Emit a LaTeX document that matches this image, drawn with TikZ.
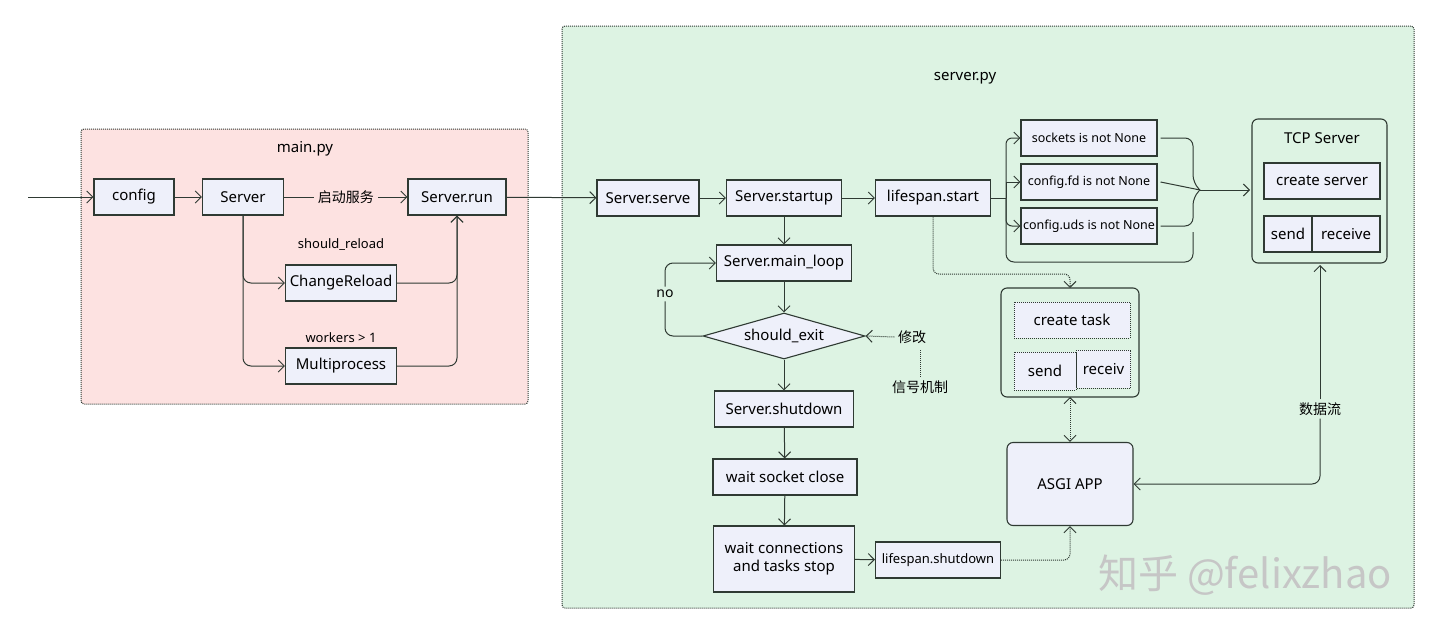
\documentclass[tikz,border=0pt]{standalone}
\usepackage{fontspec}
\setmainfont{Noto Sans}
\newfontfamily\cjk{Noto Sans CJK SC}
\usetikzlibrary{arrows.meta,shapes.geometric}
\definecolor{boxfill}{HTML}{EEF0FA}
\definecolor{ln}{HTML}{2F3A33}
\definecolor{pinkbg}{HTML}{FDE2E1}
\definecolor{greenbg}{HTML}{DDF3E3}
\begin{document}
\begin{tikzpicture}[x=1pt,y=-1pt,
  font=\fontsize{15}{18}\selectfont,
  >={Straight Barb[length=6pt,width=12pt,line width=1pt]},
  box/.style={draw=ln,line width=1.1pt,fill=boxfill,minimum height=36pt,inner sep=2pt},
  rbox/.style={draw=ln,line width=1.1pt,rounded corners=6pt},
  dbox/.style={draw=ln,densely dotted,line width=1pt,fill=boxfill,minimum height=37pt,inner sep=1pt},
  arr/.style={->,draw=ln,line width=1pt},
  dots/.style={draw=ln,densely dotted,line width=1pt},
  lbl/.style={font=\fontsize{13}{15}\selectfont},
  cn/.style={font=\cjk\fontsize{14}{17}\selectfont}]
\useasboundingbox (0,0) rectangle (1440,635);
\fill[white] (0,0) rectangle (1440,635);
% regions
\draw[dots,fill=pinkbg,rounded corners=3pt] (81,129) rectangle (528,404);
\draw[dots,fill=greenbg,rounded corners=3pt] (562,26) rectangle (1414,608);
\node (mainlbl) at (305,149) {main.py};
\node (srvlbl) at (965,78) {server.py};
\node[font=\cjk\fontsize{40}{44}\selectfont,text=gray!45] (wm) at (1245,575) {知乎 @felixzhao};
% main.py
\coordinate (in) at (28,197);
\node[box,minimum width=80pt] (config) at (134,197) {config};
\node[box,minimum width=81pt] (server) at (243,197) {Server};
\node[box,minimum width=98pt] (run) at (457,197) {Server.run};
\node[box,minimum width=111pt] (cr) at (341,283) {ChangeReload};
\node[box,minimum width=111pt] (mp) at (341,366) {Multiprocess};
\node[lbl] (sr) at (341,245) {should\_reload};
\node[lbl] (wk) at (341,338) {workers > 1};
\draw[arr] (in) -- (config);
\draw[arr] (config) -- (server);
\draw[arr] (server) -- node[fill=pinkbg,cn,inner sep=4pt]{启动服务} (run);
\draw[arr,rounded corners=8pt] (server.south) |- (cr.west);
\draw[arr,rounded corners=8pt] (server.south) |- (mp.west);
\draw[arr,rounded corners=8pt] (cr.east) -| (run.south);
\draw[arr,rounded corners=8pt] (mp.east) -| (run.south);
% server.py
\node[box,minimum width=102pt] (serve) at (648,198) {Server.serve};
\node[box,minimum width=115pt] (startup) at (784,198) {Server.startup};
\node[box,minimum width=115pt] (ls) at (933,198) {lifespan.start};
\node[box,minimum width=135pt] (loop) at (784,263) {Server.main\_loop};
\node[diamond,aspect=3.6,draw=ln,line width=1.1pt,fill=boxfill,minimum width=162pt,minimum height=46pt,inner sep=0pt] (exit) at (784,336) {should\_exit};
\node[box,minimum width=139pt] (shut) at (784,409) {Server.shutdown};
\node[box,minimum width=144pt] (wsc) at (785,477) {wait socket close};
\node[box,minimum width=141pt,minimum height=66pt,align=center] (wcon) at (784,559) {wait connections\\and tasks stop};
\node[box,minimum width=125pt,font=\fontsize{13}{15}\selectfont] (lsd) at (938,560) {lifespan.shutdown};
\draw[arr] (run) -- (serve);
\draw[arr] (serve) -- (startup);
\draw[arr] (startup) -- (ls);
\draw[arr] (startup) -- (loop);
\draw[arr] (loop) -- (exit);
\draw[arr] (exit) -- (shut);
\draw[arr] (shut) -- (wsc);
\draw[arr] (wsc) -- (wcon);
\draw[arr] (wcon) -- (lsd);
\node[lbl,font=\fontsize{14}{16}\selectfont] (no) at (665,294) {no};
\draw[ln,line width=1pt,rounded corners=8pt] (exit.west) -| (no.south);
\draw[arr,rounded corners=8pt] (no.north) |- (loop.west);
\node[cn] (xg) at (912,337) {修改};
\node[cn] (xh) at (920,387) {信号机制};
\draw[dots,->] (xg.west) -- (exit.east);
\draw[dots] (920,350) -- (xh.north);
% sockets
\node[box,minimum width=136pt,font=\fontsize{12.5}{15}\selectfont] (s1) at (1089,138) {sockets is not None};
\node[box,minimum width=136pt,font=\fontsize{12.5}{15}\selectfont] (s2) at (1089,182) {config.fd is not None};
\node[box,minimum width=136pt,font=\fontsize{12.5}{15}\selectfont] (s3) at (1089,226) {config.uds is not None};
\coordinate (br) at (1006,198);
\draw[ln,line width=1pt] (ls.east) -- (br);
\draw[arr,rounded corners=6pt] (br) |- (s1.west);
\draw[arr] (br) |- (s2.west);
\draw[arr,rounded corners=6pt] (br) |- (s3.west);
\draw[ln,line width=1pt,rounded corners=8pt] (br) -- (1006,262) -- (1193,262) -- (1193,232);
% TCP
\draw[rbox] (1252,119) rectangle (1387,263);
\node (tcp) at (1322,138) {TCP Server};
\node[box,minimum width=116pt] (cs) at (1322,181) {create server};
\node[box,minimum width=48pt] (tsend) at (1288,234) {send};
\node[box,minimum width=68pt] (trecv) at (1346,234) {receive};
\coordinate (tcpw) at (1250,190);
\coordinate (tcps) at (1320,265);
\coordinate (mg) at (1200,190);
\draw[ln,line width=1pt,rounded corners=8pt] ([xshift=3pt]s1.east) -- (1193,138) -- (1193,183) -- (mg);
\draw[ln,line width=1pt] ([xshift=3pt]s2.east) -- (mg);
\draw[ln,line width=1pt,rounded corners=8pt] ([xshift=3pt]s3.east) -- (1193,226) -- (1193,197) -- (mg);
\draw[arr] (mg) -- (tcpw);
% task box
\draw[rbox] (1001,288) rectangle (1139,397);
\coordinate (tasktop) at (1070,288);
\coordinate (taskbot) at (1070,397);
\node[dbox,minimum width=116pt,minimum height=36pt] (ct) at (1072,320) {create task};
\node[dbox,minimum width=62pt,minimum height=38pt] (ksend) at (1045,371) {send};
\node[dbox,minimum width=54pt,minimum height=38pt,anchor=west] (krecv) at (1076,369) {receiv};
\node[rbox,minimum width=126pt,minimum height=83pt,fill=boxfill] (asgi) at (1070,484) {ASGI APP};
\draw[dots,rounded corners=6pt,->] (ls.south) -- (933,274) -- (1070,274) -- (tasktop);
\draw[dots,<->] (taskbot) -- (asgi.north);
\draw[dots,->,rounded corners=6pt] (lsd.east) -| (asgi.south);
\node[cn,fill=greenbg,inner sep=3pt] (sjl) at (1320,409) {数据流};
\draw[arr] (sjl.north) -- (tcps);
\draw[arr,rounded corners=8pt] (sjl.south) |- (asgi.east);
\end{tikzpicture}
\end{document}
